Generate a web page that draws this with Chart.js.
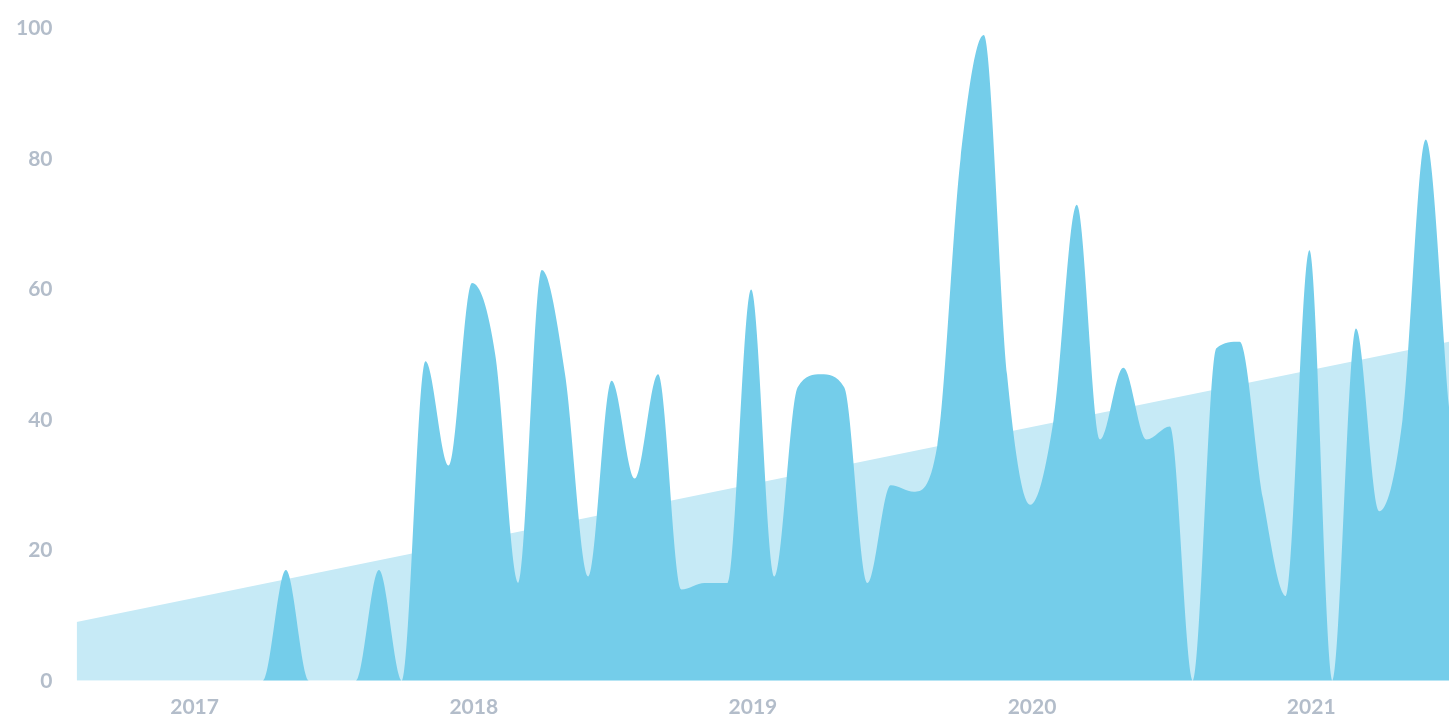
<!DOCTYPE html>
<html>
<head>
<meta charset="utf-8">
<script src="https://cdn.jsdelivr.net/npm/chart.js@4/dist/chart.umd.min.js"></script>
<style>
  html, body { margin: 0; padding: 0; background: #fff; }
  #wrap { width: 1453px; height: 726px; }
</style>
</head>
<body>
<div id="wrap"><canvas id="grafico"></canvas></div>
<script>
// monthly values, starting mid 2016
const inicio = 2016.577;
const valores = [0, 0, 0, 0, 0, 0, 0, 0, 0, 17,
  0, 0, 0, 17, 0, 49, 33, 61, 50, 15,
  63, 47, 16, 46, 31, 47, 14, 15, 15, 60,
  16, 45, 47, 45, 15, 30, 29, 36, 80, 99,
  47, 27, 40, 73, 37, 48, 37, 39, 0, 51,
  52, 28, 13, 66, 0, 54, 26, 40, 83, 42];
const tendencia = [9, 52];
const anos = [2017, 2018, 2019, 2020, 2021];

const fim = inicio + (valores.length - 1) / 12;
const pontos = valores.map((v, i) => ({ x: inicio + i / 12, y: v }));
const linhaTendencia = [{ x: inicio, y: tendencia[0] }, { x: fim, y: tendencia[1] }];

const corTexto = "#b3bdca";
const fonte = { family: "Lato", size: 21, weight: "bold" };

new Chart(document.getElementById("grafico"), {
    type: 'line',
    data: {
        datasets: [
            {
                data: pontos,
                fill: 'origin',
                backgroundColor: '#74cdea',
                borderWidth: 0,
                pointRadius: 0,
                cubicInterpolationMode: 'monotone',
                order: 1
            },
            {
                data: linhaTendencia,
                fill: 'origin',
                backgroundColor: '#c6eaf6',
                borderWidth: 0,
                pointRadius: 0,
                order: 2
            }
        ]
    },
    options: {
        responsive: true,
        maintainAspectRatio: false,
        animation: false,
        layout: { padding: { top: 12, right: 4 } },
        plugins: { legend: { display: false }, tooltip: { enabled: false } },
        scales: {
            x: {
                type: 'linear',
                min: inicio,
                max: fim,
                grid: { display: false },
                border: { display: false },
                afterBuildTicks: (eixo) => { eixo.ticks = anos.map(a => ({ value: a })); },
                ticks: { color: corTexto, font: fonte, padding: 6, callback: v => String(v) }
            },
            y: {
                min: 0,
                max: 100,
                grid: { display: false },
                border: { display: false },
                ticks: { stepSize: 20, color: corTexto, font: fonte, padding: 16 }
            }
        }
    }
});
</script>
</body>
</html>
